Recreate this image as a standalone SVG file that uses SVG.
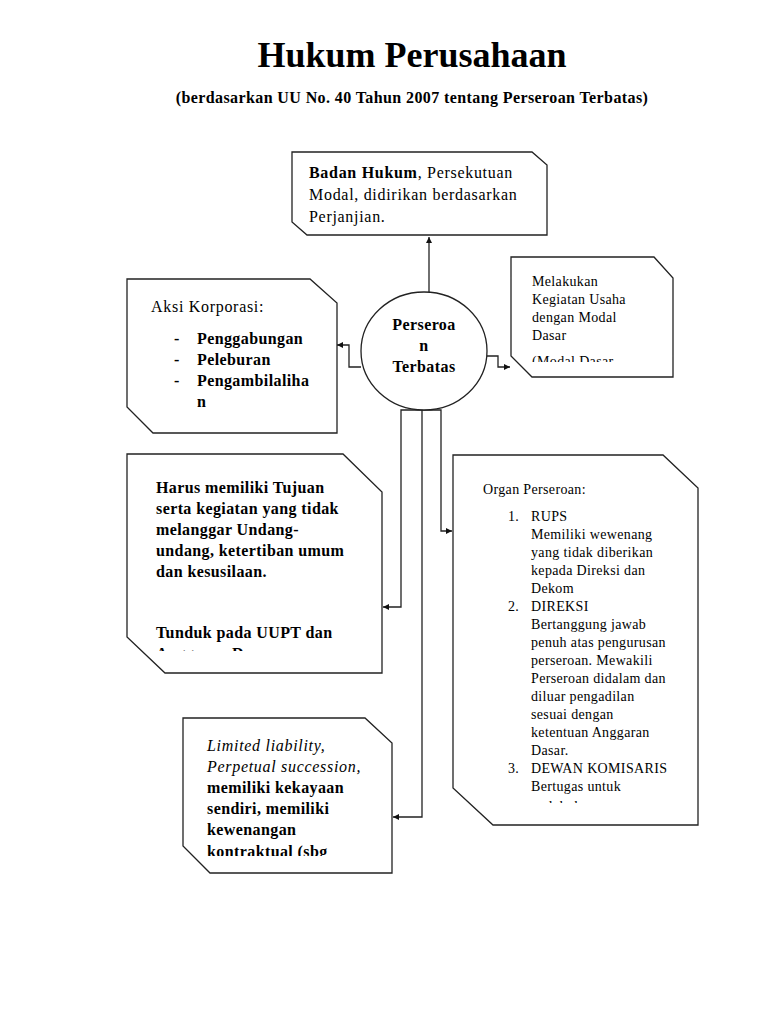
<svg xmlns="http://www.w3.org/2000/svg" width="768" height="1024" viewBox="0 0 768 1024">
<style>
text{font-family:"Liberation Serif","Times New Roman",serif;fill:#000}
.box{fill:#fff;stroke:#222;stroke-width:1.3}
.con{fill:none;stroke:#222;stroke-width:1.3}
.t16{font-size:16px;letter-spacing:0.7px}
.b16{font-size:16px;font-weight:bold;letter-spacing:0.4px}
.t14{font-size:14px;letter-spacing:0.35px}
.it{font-style:italic;font-weight:normal}
.bd{font-weight:bold}
</style>
<defs>
<marker id="ah" viewBox="0 0 10 10" refX="10" refY="5" markerWidth="8" markerHeight="6" markerUnits="userSpaceOnUse" orient="auto">
<path d="M0,0 L10,5 L0,10 z" fill="#111"/>
</marker>
<clipPath id="cMel"><rect x="511" y="257" width="170" height="105"/></clipPath>
<clipPath id="cHar"><rect x="127" y="454" width="260" height="197"/></clipPath>
<clipPath id="cLim"><rect x="183" y="718" width="215" height="138"/></clipPath>
<clipPath id="cOrg"><rect x="453" y="455" width="250" height="348"/></clipPath>
</defs>
<rect width="768" height="1024" fill="#fff"/>

<g id="title">
<text x="412" y="67" text-anchor="middle" font-size="36" font-weight="bold">Hukum Perusahaan</text>
<text x="412" y="103" text-anchor="middle" font-size="16" font-weight="bold" letter-spacing="0.4">(berdasarkan UU No. 40 Tahun 2007 tentang Perseroan Terbatas)</text>
</g>

<g id="connectors">
<path class="con" d="M429,292 V237" marker-end="url(#ah)"/>
<path class="con" d="M361,367 H349 V345 H337" marker-end="url(#ah)"/>
<path class="con" d="M487,356 H498 V367 H510" marker-end="url(#ah)"/>
<path class="con" d="M422,410 H401 V607 H383" marker-end="url(#ah)"/>
<path class="con" d="M422,410 V817 H393" marker-end="url(#ah)"/>
<path class="con" d="M422,410 H441 V531 H452" marker-end="url(#ah)"/>
</g>

<g id="badan-hukum">
<polygon class="box" points="292,152 532,152 547,165 547,235 307,235 292,222"/>
<text class="t16" x="309" y="178" letter-spacing="0.9"><tspan class="bd">Badan Hukum</tspan>, Persekutuan</text>
<text class="t16" x="309" y="200" letter-spacing="0.9">Modal, didirikan berdasarkan</text>
<text class="t16" x="309" y="222" letter-spacing="0.9">Perjanjian.</text>
</g>

<g id="perseroan-terbatas">
<ellipse cx="424" cy="351" rx="63" ry="59" fill="#fff" stroke="#222" stroke-width="1.3"/>
<text class="b16" x="424" y="330" text-anchor="middle">Perseroa</text>
<text class="b16" x="424" y="351" text-anchor="middle">n</text>
<text class="b16" x="424" y="372" text-anchor="middle">Terbatas</text>
</g>

<g id="aksi-korporasi">
<polygon class="box" points="127,279 310,279 337,303 337,433 153,433 127,407"/>
<text class="t16" x="151" y="312">Aksi Korporasi:</text>
<text class="b16" x="174" y="344">-</text>
<text class="b16" x="197" y="344">Penggabungan</text>
<text class="b16" x="174" y="365">-</text>
<text class="b16" x="197" y="365">Peleburan</text>
<text class="b16" x="174" y="386">-</text>
<text class="b16" x="197" y="386">Pengambilaliha</text>
<text class="b16" x="197" y="407">n</text>
</g>

<g id="kegiatan-usaha">
<polygon class="box" points="511,257 654,257 673,278 673,377 532,377 511,356"/>
<g clip-path="url(#cMel)">
<text class="t14" x="532" y="286">Melakukan</text>
<text class="t14" x="532" y="304">Kegiatan Usaha</text>
<text class="t14" x="532" y="322">dengan Modal</text>
<text class="t14" x="532" y="340">Dasar</text>
<text class="t14" x="532" y="366">(Modal Dasar</text>
</g>
</g>

<g id="tujuan">
<polygon class="box" points="127,454 343,454 382,492 382,673 165,673 127,637"/>
<g clip-path="url(#cHar)">
<text class="b16" x="156" y="493">Harus memiliki Tujuan</text>
<text class="b16" x="156" y="514">serta kegiatan yang tidak</text>
<text class="b16" x="156" y="535">melanggar Undang-</text>
<text class="b16" x="156" y="556">undang, ketertiban umum</text>
<text class="b16" x="156" y="577">dan kesusilaan.</text>
<text class="b16" x="156" y="638">Tunduk pada UUPT dan</text>
<text class="b16" x="156" y="659">Anggaran Dasar.</text>
</g>
</g>

<g id="organ-perseroan">
<polygon class="box" points="453,455 663,455 698,488 698,825 493,825 453,788"/>
<g clip-path="url(#cOrg)">
<text class="t14" x="483" y="494">Organ Perseroan:</text>
<text class="t14" x="508" y="521">1.</text>
<text class="t14" x="531" y="521">RUPS</text>
<text class="t14" x="531" y="539">Memiliki wewenang</text>
<text class="t14" x="531" y="557">yang tidak diberikan</text>
<text class="t14" x="531" y="575">kepada Direksi dan</text>
<text class="t14" x="531" y="593">Dekom</text>
<text class="t14" x="508" y="611">2.</text>
<text class="t14" x="531" y="611">DIREKSI</text>
<text class="t14" x="531" y="629">Bertanggung jawab</text>
<text class="t14" x="531" y="647">penuh atas pengurusan</text>
<text class="t14" x="531" y="665">perseroan. Mewakili</text>
<text class="t14" x="531" y="683">Perseroan didalam dan</text>
<text class="t14" x="531" y="701">diluar pengadilan</text>
<text class="t14" x="531" y="719">sesuai dengan</text>
<text class="t14" x="531" y="737">ketentuan Anggaran</text>
<text class="t14" x="531" y="755">Dasar.</text>
<text class="t14" x="508" y="773">3.</text>
<text class="t14" x="531" y="773">DEWAN KOMISARIS</text>
<text class="t14" x="531" y="791">Bertugas untuk</text>
<text class="t14" x="531" y="811">melakukan</text>
</g>
</g>

<g id="limited-liability">
<polygon class="box" points="183,718 365,718 392,743 392,873 210,873 183,846"/>
<g clip-path="url(#cLim)">
<text class="t16 it" x="207" y="751">Limited liability,</text>
<text class="t16 it" x="207" y="772">Perpetual succession,</text>
<text class="b16" x="207" y="793">memiliki kekayaan</text>
<text class="b16" x="207" y="814">sendiri, memiliki</text>
<text class="b16" x="207" y="835">kewenangan</text>
<text class="b16" x="207" y="857">kontraktual (sbg</text>
</g>
</g>
</svg>
